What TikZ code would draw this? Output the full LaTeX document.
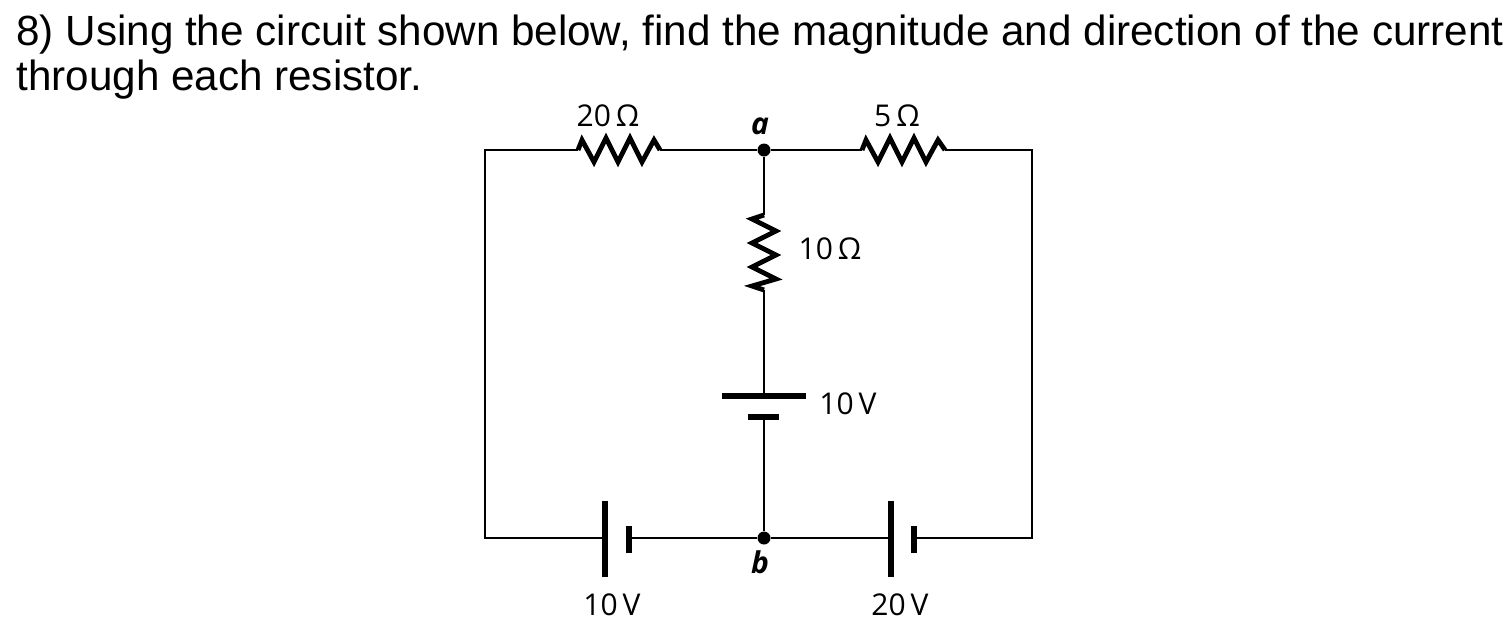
\documentclass[tikz,border=0pt]{standalone}
\usepackage{fontspec}
\setmainfont{Liberation Sans}
\newfontfamily\lbl{Open Sans}
\begin{document}
\begin{tikzpicture}[x=0.5pt,y=-0.5pt]
\tikzset{
  wire/.style={line width=1.1pt},
  res/.style={line width=2.4pt, line join=miter},
  plate/.style={line width=2.6pt},
  dot/.style={circle, fill, inner sep=0pt, minimum size=6.5pt},
  lab/.style={font=\lbl\fontsize{15}{17}\selectfont, inner sep=0pt},
  pt/.style={font=\lbl\fontsize{15}{17}\selectfont\bfseries\itshape, inner sep=0pt}
}
\useasboundingbox (0,0) rectangle (1508,638);
\node[anchor=west, font=\fontsize{21.1}{24}\selectfont, inner sep=0pt] at (16,35) {8) Using the circuit shown below, find the magnitude and direction of the current};
\node[anchor=west, font=\fontsize{21.1}{24}\selectfont, inner sep=0pt] at (16,80) {through each resistor.};
% nodes
\node[dot] (a) at (764,150) {};
\node[dot] (b) at (764,538) {};
\coordinate (tl) at (485,150);
\coordinate (tr) at (1032,150);
\coordinate (bl) at (485,538);
\coordinate (br) at (1032,538);
% wires
\draw[wire] (578,150) -- (tl) -- (bl) -- (605,538);
\draw[wire] (629,538) -- (b) -- (891,538);
\draw[wire] (914,538) -- (br) -- (tr) -- (945,150);
\draw[wire] (660,150) -- (a) -- (862,150);
\draw[wire] (a) -- (764,215);
\draw[wire] (764,290) -- (764,396);
\draw[wire] (764,417) -- (b);
% resistors
\draw[res] (578,150) -- (582,140) -- (594,162) -- (606,138) -- (618,162) -- (630,138) -- (642,162) -- (654,140) -- (660,150);
\draw[res] (862,150) -- (866,140) -- (878,162) -- (890,138) -- (902,162) -- (914,138) -- (926,162) -- (938,140) -- (945,150);
\draw[res] (764,215) -- (752,219) -- (776,231) -- (752,243) -- (776,255) -- (752,267) -- (776,279) -- (752,286) -- (764,290);
% batteries
\draw[plate] (722,396) -- (806,396);
\draw[plate] (748,417) -- (779,417);
\draw[plate] (605,501) -- (605,577);
\draw[plate] (629,526) -- (629,553);
\draw[plate] (891,501) -- (891,577);
\draw[plate] (914,526) -- (914,553);
% labels
\node[lab] at (608,116) {20\,Ω};
\node[lab] at (897,116) {5\,Ω};
\node[lab] at (830,249) {10\,Ω};
\node[lab] at (848,404) {10\,V};
\node[lab] at (612,605) {10\,V};
\node[lab] at (900,605) {20\,V};
\node[pt] at (760,126) {a};
\node[pt] at (760,562) {b};
\end{tikzpicture}
\end{document}
